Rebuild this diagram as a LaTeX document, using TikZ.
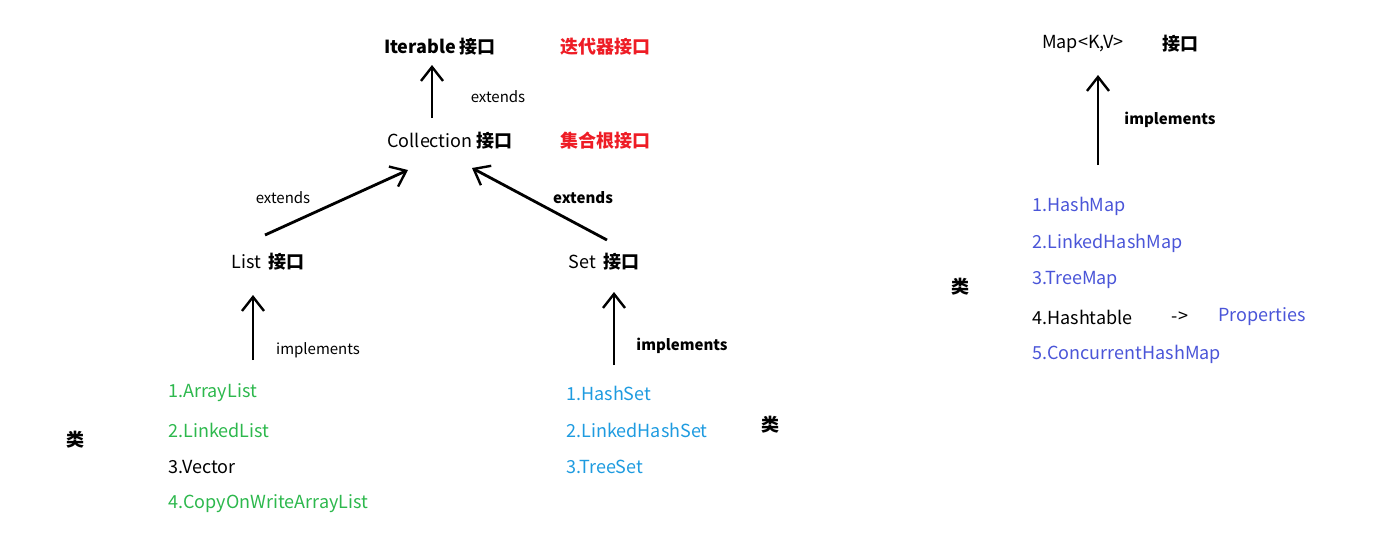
\documentclass[tikz,border=0pt]{standalone}
\usepackage{fontspec}
\setmainfont{Noto Sans CJK SC}
\usetikzlibrary{arrows.meta}
\definecolor{jred}{HTML}{EE1C25}
\definecolor{jgreen}{HTML}{2DB84D}
\definecolor{jcyan}{HTML}{1E9BE0}
\definecolor{jblue}{HTML}{4A55D8}
\begin{document}
\begin{tikzpicture}[x=0.5pt,y=-0.5pt,
  every node/.style={font=\fontsize{9}{10}\selectfont,inner sep=1pt},
  b/.style={font=\fontsize{9}{10}\selectfont\bfseries},
  lbl/.style={font=\fontsize{7.5}{9}\selectfont},
  arr/.style={line width=1.4pt,-{Straight Barb[length=7pt,width=11pt,line width=1.2pt]}},
  item/.style={anchor=west}]
\useasboundingbox (0,0) rectangle (1381,547);
\node (it) at (440,47) {\textbf{Iterable 接口}};
\node[b,text=jred] (itr) at (605,47) {迭代器接口};
\node (co) at (450,141) {Collection \textbf{接口}};
\node[b,text=jred] (cor) at (605,141) {集合根接口};
\node (li) at (268,262) {List\, \textbf{接口}};
\node (se) at (604,262) {Set\, \textbf{接口}};
\coordinate (c1) at (432,118); \coordinate (c2) at (432,65);
\draw[arr] (c1) -- (c2);
\node[lbl] (e1) at (498,97) {extends};
\coordinate (l1) at (265,235); \coordinate (l2) at (408,170);
\draw[arr] (l1) -- (l2);
\node[lbl] (e2) at (283,198) {extends};
\coordinate (s1) at (607,240); \coordinate (s2) at (472,168);
\draw[arr] (s1) -- (s2);
\node[lbl,font=\fontsize{7.5}{9}\selectfont\bfseries] (e3) at (583,198) {extends};
\coordinate (la) at (253,360); \coordinate (lb) at (253,295);
\draw[arr] (la) -- (lb);
\node[lbl] (i1) at (318,350) {implements};
\coordinate (sa) at (614,365); \coordinate (sb) at (614,292);
\draw[arr] (sa) -- (sb);
\node[lbl,font=\fontsize{7.5}{9}\selectfont\bfseries] (i2) at (682,346) {implements};
\node[item,text=jgreen] (a1) at (166,393) {1.ArrayList};
\node[item,text=jgreen] (a2) at (166,430) {2.LinkedList};
\node[item] (a3) at (166,467) {3.Vector};
\node[item,text=jgreen] (a4) at (166,504) {4.CopyOnWriteArrayList};
\node[item,text=jcyan] (h1) at (564,393) {1.HashSet};
\node[item,text=jcyan] (h2) at (564,430) {2.LinkedHashSet};
\node[item,text=jcyan] (h3) at (564,467) {3.TreeSet};
\node[b] (k1) at (75,440) {类};
\node[b] (k2) at (770,425) {类};
\node[b] (k3) at (960,287) {类};
\node (mp) at (1083,44) {Map<K,V>};
\node[b] (mpj) at (1180,44) {接口};
\coordinate (ma) at (1098,165); \coordinate (mb) at (1098,75);
\draw[arr] (ma) -- (mb);
\node[lbl,font=\fontsize{7.5}{9}\selectfont\bfseries] (i3) at (1170,120) {implements};
\node[item,text=jblue] (m1) at (1030,206) {1.HashMap};
\node[item,text=jblue] (m2) at (1030,243) {2.LinkedHashMap};
\node[item,text=jblue] (m3) at (1030,280) {3.TreeMap};
\node[item] (m4) at (1030,317) {4.Hashtable};
\node (m4a) at (1180,317) {->};
\node[text=jblue] (m4b) at (1262,317) {Properties};
\node[item,text=jblue] (m5) at (1030,354) {5.ConcurrentHashMap};
\end{tikzpicture}
\end{document}
